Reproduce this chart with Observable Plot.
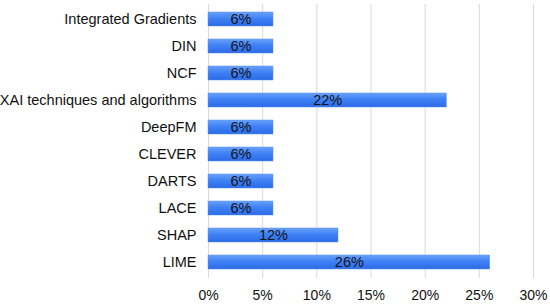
<!DOCTYPE html>
<html>
<head>
<meta charset="utf-8">
<script src="https://cdn.jsdelivr.net/npm/d3@7"></script>
<script src="https://cdn.jsdelivr.net/npm/@observablehq/plot@0.6"></script>
<style>
  html, body { margin: 0; padding: 0; background: #fff; }
  #chart svg { display: block; }
</style>
</head>
<body>
<div id="chart"></div>
<script>
const categories = ["Integrated Gradients", "DIN", "NCF", "XAI techniques and algorithms", "DeepFM", "CLEVER", "DARTS", "LACE", "SHAP", "LIME"];
const values = [6, 6, 6, 22, 6, 6, 6, 6, 12, 26];
const xTicks = [0, 5, 10, 15, 20, 25, 30];

const data = categories.map((c, i) => ({category: c, value: values[i]}));

const gradientDefs = () => {
  const svg = d3.create("svg:g");
  const grad = svg.append("defs").append("linearGradient")
    .attr("id", "barGrad").attr("x1", 0).attr("y1", 0).attr("x2", 0).attr("y2", 1);
  grad.append("stop").attr("offset", "0%").attr("stop-color", "#6aa0fa");
  grad.append("stop").attr("offset", "45%").attr("stop-color", "#3f82f6");
  grad.append("stop").attr("offset", "100%").attr("stop-color", "#2c6ae6");
  return svg.node();
};

const chart = Plot.plot({
  width: 550,
  height: 304,
  marginLeft: 208,
  marginRight: 17,
  marginTop: 4,
  marginBottom: 26,
  style: {fontFamily: "'Liberation Sans', Arial, sans-serif", fontSize: "14.5px", color: "#111"},
  x: {domain: [0, 30], ticks: xTicks, tickFormat: d => d + "%", label: null, tickSize: 0},
  y: {domain: categories, label: null, paddingInner: 0.47, paddingOuter: 0.265},
  marks: [
    gradientDefs,
    Plot.ruleX(xTicks, {stroke: "#d9d9d9", strokeWidth: 1}),
    Plot.barX(data, {x: "value", y: "category", fill: "url(#barGrad)", stroke: "#5a92f5", strokeWidth: 0.5}),
    Plot.text(data, {x: d => d.value / 2, y: "category", text: d => d.value + "%", fill: "#141414", fontSize: 14.5}),
    Plot.axisX({ticks: xTicks, tickFormat: d => d + "%", tickSize: 0, tickPadding: 12, fontSize: 14, label: null}),
    Plot.axisY({tickSize: 0, tickPadding: 12, fontSize: 14.5, label: null})
  ]
});

document.getElementById("chart").appendChild(chart);
</script>
</body>
</html>
